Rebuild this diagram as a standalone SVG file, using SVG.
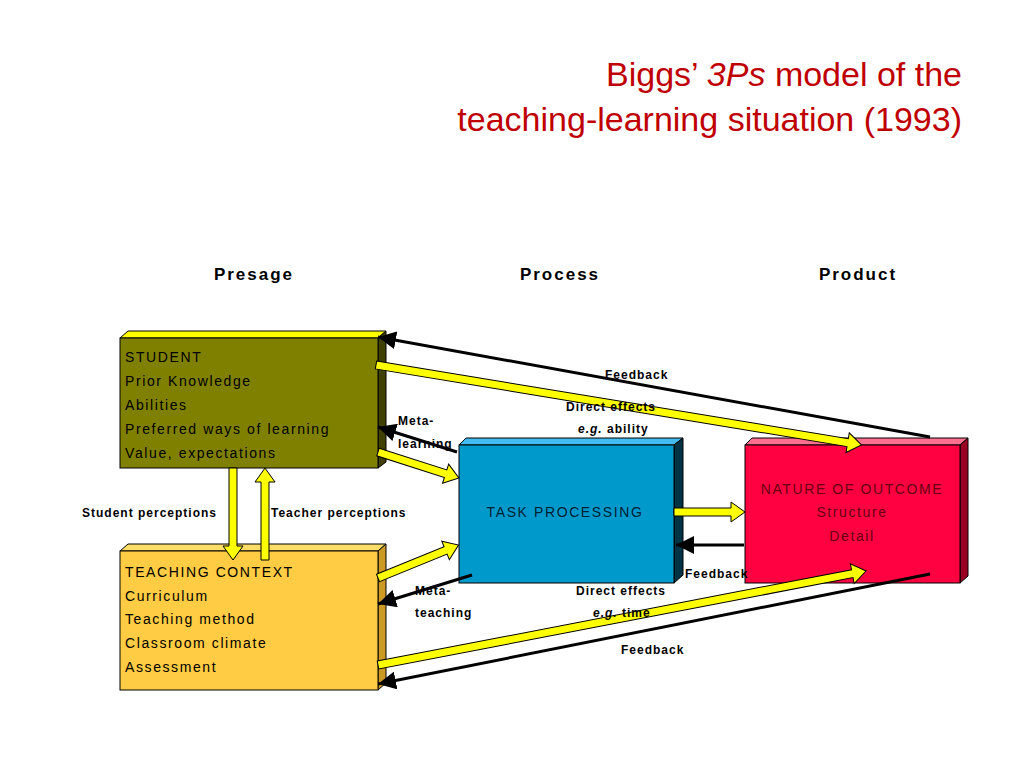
<svg xmlns="http://www.w3.org/2000/svg" width="1024" height="768" viewBox="0 0 1024 768">
<style>
text{font-family:"Liberation Sans",Arial,sans-serif}
.t{font-size:34px;fill:#c00000;text-anchor:end}
.h{font-size:17px;font-weight:bold;letter-spacing:2px;text-anchor:middle}
.b{font-size:14px;letter-spacing:1.6px}
.l{font-size:12px;font-weight:bold;letter-spacing:1px}
.ya{fill:#ffff00;stroke:#000;stroke-width:1}
.bk{stroke:#000;stroke-width:3;fill:none;marker-end:url(#ah)}
.e{stroke:#000;stroke-width:1}
</style>
<defs>
<marker id="ah" markerUnits="userSpaceOnUse" markerWidth="20" markerHeight="18" refX="18" refY="9" orient="auto"><path d="M0,0 L18,9 L0,18 Z" fill="#000"/></marker>
<polygon id="ar" points="0,-4 1,-4 1,4 0,4"/>
</defs>
<text class="t" x="962" y="86">Biggs’ <tspan font-style="italic">3Ps</tspan> model of the</text>
<text class="t" x="962" y="131">teaching-learning situation (1993)</text>
<text class="h" x="254" y="280">Presage</text>
<text class="h" x="560" y="280">Process</text>
<text class="h" x="858" y="280">Product</text>

<g id="student">
<polygon points="120,338 128,331 386,331 378,338" fill="#ffff00" class="e"/>
<polygon points="378,338 386,331 386,462 378,468" fill="#404000" class="e"/>
<rect x="120" y="338" width="258" height="130" fill="#808000" class="e"/>
<text class="b" x="125" y="362">STUDENT</text>
<text class="b" x="125" y="386">Prior Knowledge</text>
<text class="b" x="125" y="410">Abilities</text>
<text class="b" x="125" y="434">Preferred ways of learning</text>
<text class="b" x="125" y="458">Value, expectations</text>
</g>
<g id="teaching">
<polygon points="120,551 128,544 386,544 378,551" fill="#ffdd66" class="e"/>
<polygon points="378,551 386,544 386,683 378,690" fill="#cc9922" class="e"/>
<rect x="120" y="551" width="258" height="139" fill="#ffcc44" class="e"/>
<text class="b" x="125" y="577">TEACHING CONTEXT</text>
<text class="b" x="125" y="601">Curriculum</text>
<text class="b" x="125" y="624">Teaching method</text>
<text class="b" x="125" y="648">Classroom climate</text>
<text class="b" x="125" y="672">Assessment</text>
</g>
<g id="task">
<polygon points="459,445 466,438 683,438 674,445" fill="#44bbee" class="e"/>
<polygon points="674,445 683,438 683,575 674,583" fill="#003344" class="e"/>
<rect x="459" y="445" width="215" height="138" fill="#0099cc" class="e"/>
<text class="b" x="565" y="517" text-anchor="middle" fill="#002233">TASK PROCESSING</text>
</g>
<g id="outcome">
<polygon points="745,445 752,438 968,438 960,445" fill="#ff7090" class="e"/>
<polygon points="960,445 968,438 968,576 960,583" fill="#990022" class="e"/>
<rect x="745" y="445" width="215" height="138" fill="#ff0040" class="e"/>
<text class="b" x="852" y="494" text-anchor="middle" fill="#660011">NATURE OF OUTCOME</text>
<text class="b" x="852" y="517" text-anchor="middle" fill="#660011">Structure</text>
<text class="b" x="852" y="541" text-anchor="middle" fill="#660011">Detail</text>
</g>

<g id="connectors">
<line class="bk" x1="930" y1="437" x2="378" y2="337"/>
<line class="bk" x1="457" y1="452" x2="378" y2="427"/>
<line class="bk" x1="472" y1="575" x2="378" y2="604"/>
<line class="bk" x1="744" y1="545" x2="676" y2="545"/>
<line class="bk" x1="930" y1="574" x2="378" y2="684"/>
<polygon class="ya" transform="translate(376,365) rotate(9.35)" points="0,-4 478,-4 478,-10 492,0 478,10 478,4 0,4"/>
<polygon class="ya" transform="translate(378,452) rotate(17.8)" points="0,-4 71,-4 71,-10 85,0 71,10 71,4 0,4"/>
<polygon class="ya" transform="translate(233,468) rotate(90)" points="0,-4 78,-4 78,-10 92,0 78,10 78,4 0,4"/>
<polygon class="ya" transform="translate(265,560) rotate(-90)" points="0,-4 78,-4 78,-10 92,0 78,10 78,4 0,4"/>
<polygon class="ya" transform="translate(378,578) rotate(-22.2)" points="0,-4 73,-4 73,-10 87,0 73,10 73,4 0,4"/>
<polygon class="ya" transform="translate(674,512) rotate(0)" points="0,-4 57,-4 57,-10 71,0 57,10 57,4 0,4"/>
<polygon class="ya" transform="translate(378,665) rotate(-10.9)" points="0,-4 483,-4 483,-10 497,0 483,10 483,4 0,4"/>
</g>

<g id="labels">
<text class="l" x="82" y="517">Student perceptions</text>
<text class="l" x="271" y="517">Teacher perceptions</text>
<text class="l" x="605" y="379">Feedback</text>
<text class="l" x="566" y="411">Direct effects</text>
<text class="l" x="578" y="433"><tspan font-style="italic">e.g.</tspan> ability</text>
<text class="l" x="398" y="425">Meta-</text>
<text class="l" x="398" y="448">learning</text>
<text class="l" x="685" y="578">Feedback</text>
<text class="l" x="415" y="595">Meta-</text>
<text class="l" x="415" y="617">teaching</text>
<text class="l" x="576" y="595">Direct effects</text>
<text class="l" x="593" y="617"><tspan font-style="italic">e.g.</tspan> time</text>
<text class="l" x="621" y="654">Feedback</text>
</g>
</svg>
